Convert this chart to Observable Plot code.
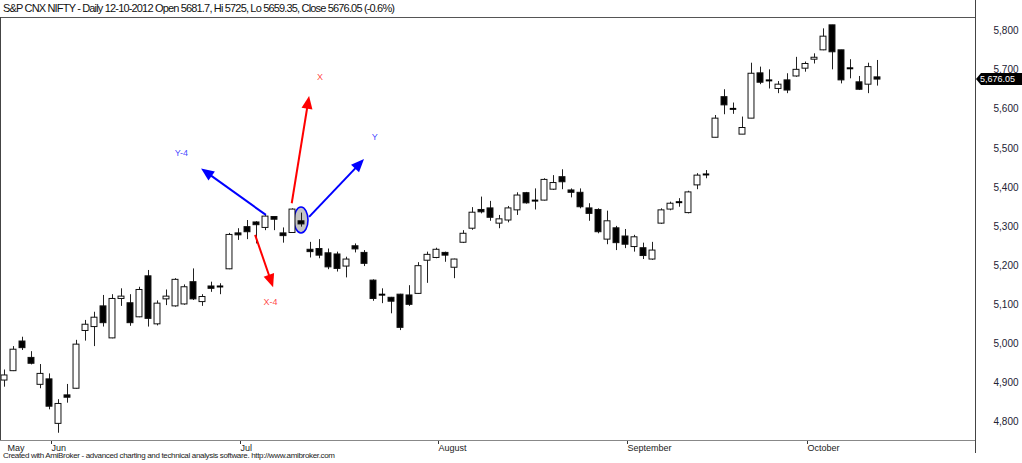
<!DOCTYPE html>
<html>
<head>
<meta charset="utf-8">
<script src="https://cdn.jsdelivr.net/npm/d3@7"></script>
<script src="https://cdn.jsdelivr.net/npm/@observablehq/plot@0.6"></script>
<style>
  html, body { margin: 0; padding: 0; background: #fff; }
  #chart svg { display: block; }
</style>
</head>
<body>
<div id="chart"></div>
<script>
// ---- data ----
const titleText = "S&P CNX NIFTY - Daily 12-10-2012 Open 5681.7, Hi 5725, Lo 5659.35, Close 5676.05 (-0.6%)";
const footerText = "Created with AmiBroker - advanced charting and technical analysis software. http://www.amibroker.com";

const opens = [4905,4929,5005,4963,4894,4908,4794,4867,4884,5032,5042,5095,5013,5114,5103,5067,5172,5049,5113,5095,
  5100,5157,5106,5146,5146,5190,5282,5298,5310,5296,5324,5282,5283,5313,5240,5242,5231,5228,5197,5249,
  5232,5161,5125,5117,5125,5123,5127,5212,5219,5232,5194,5258,5294,5342,5346,5307,5315,5341,5385,5366,
  5366,5394,5426,5392,5386,5346,5342,5266,5295,5274,5247,5244,5215,5307,5343,5362,5334,5405,5433,5527,
  5631,5601,5535,5576,5692,5674,5652,5674,5684,5704,5727,5751,5815,5751,5705,5669,5663,5681.7];
const highs = [4932,4992,5016,4979,4946,4922,4856,4895,5008,5059,5080,5123,5125,5140,5125,5144,5187,5109,5137,5166,
  5150,5191,5125,5157,5153,5282,5294,5315,5312,5330,5325,5296,5345,5334,5259,5266,5242,5234,5221,5255,
  5238,5163,5140,5118,5126,5148,5207,5234,5244,5234,5216,5289,5348,5375,5364,5328,5351,5386,5387,5396,
  5422,5430,5445,5396,5396,5358,5345,5339,5300,5292,5277,5257,5259,5345,5362,5371,5390,5435,5443,5584,
  5650,5616,5580,5718,5708,5701,5671,5691,5733,5721,5742,5806,5815,5751,5727,5684,5718,5725];
const lows = [4888,4928,4982,4945,4884,4830,4770,4847,4883,5006,4992,5042,5012,5095,5044,5066,5042,5045,5097,5093,
  5098,5110,5095,5131,5125,5189,5264,5266,5255,5289,5289,5257,5283,5298,5219,5217,5189,5183,5168,5232,
  5197,5108,5102,5076,5033,5095,5126,5154,5217,5208,5166,5256,5290,5332,5313,5294,5309,5328,5357,5342,
  5365,5392,5394,5373,5345,5313,5281,5253,5238,5243,5234,5215,5213,5305,5340,5349,5332,5394,5422,5527,
  5586,5587,5535,5576,5663,5652,5640,5640,5682,5695,5716,5750,5701,5665,5678,5648,5640,5659.35];
const closes = [4918,4984,4988,4948,4922,4838,4845,4861,4997,5048,5066,5052,5114,5120,5052,5137,5063,5102,5120,5163,
  5144,5113,5119,5140,5146,5278,5277,5285,5303,5325,5317,5275,5343,5305,5234,5225,5195,5191,5215,5241,
  5204,5114,5125,5107,5040,5099,5198,5227,5240,5225,5215,5281,5335,5336,5322,5318,5346,5379,5359,5366,
  5419,5411,5413,5386,5349,5332,5285,5313,5257,5253,5272,5224,5238,5341,5358,5362,5387,5430,5433,5576,
  5610,5601,5552,5691,5668,5674,5663,5648,5701,5716,5732,5786,5746,5674,5705,5650,5708,5676.05];

const monthTickIdx = [0, 5, 26, 48, 69, 89];
const monthLabels = ["May", "Jun", "Jul", "August", "September", "October"];
const yTicks = [4800, 4900, 5000, 5100, 5200, 5300, 5400, 5500, 5600, 5700, 5800];

// annotation arrows in (bar index, price) coordinates
const arrowNames  = ["Y-4", "Y", "X", "X-4"];
const arrowColors = ["#0000ff", "#0000ff", "#ff0000", "#ff0000"];
const arrowFromI  = [29.1, 33.9, 31.97, 27.9];
const arrowFromP  = [5328, 5323, 5358, 5277];
const arrowToI    = [21.9, 40.0, 33.9, 29.9];
const arrowToP    = [5447, 5471, 5633, 5143];
const labelI      = [19.7, 41.2, 35.1, 29.6];
const labelP      = [5487, 5528, 5681, 5105];
const highlightI = 33, highlightP = 5315;

// ---- build table ----
const bars = opens.map((o, i) => ({i, open: o, high: highs[i], low: lows[i], close: closes[i]}));
const bodies = bars.filter(d => d.open !== d.close);
const dojis = bars.filter(d => d.open === d.close);
const last = bars[bars.length - 1];
const monthMap = new Map(monthTickIdx.map((d, k) => [d, monthLabels[k]]));

const W = 1022, H = 463, mL = 1, mR = 47, mT = 17, mB = 23;
const FONT = "'Liberation Sans', Arial, sans-serif";

// ellipse highlight (under candles)
const highlightMark = (index, scales) => {
  const g = d3.create("svg:g");
  g.append("ellipse")
    .attr("cx", scales.x(highlightI)).attr("cy", scales.y(highlightP))
    .attr("rx", 7).attr("ry", 13)
    .attr("fill", "#c4c4c4").attr("stroke", "#0000ff").attr("stroke-width", 1.6);
  return g.node();
};

// arrows with filled heads + labels
const arrowMark = (index, scales) => {
  const g = d3.create("svg:g");
  arrowNames.forEach((name, k) => {
    const x0 = scales.x(arrowFromI[k]), y0 = scales.y(arrowFromP[k]);
    const x1 = scales.x(arrowToI[k]), y1 = scales.y(arrowToP[k]);
    const dx = x1 - x0, dy = y1 - y0, len = Math.hypot(dx, dy);
    const ux = dx / len, uy = dy / len, nx = -uy, ny = ux;
    const L = 13, w = 5.5;
    const bx = x1 - ux * L, by = y1 - uy * L;
    g.append("line").attr("x1", x0).attr("y1", y0).attr("x2", bx + ux * 2).attr("y2", by + uy * 2)
      .attr("stroke", arrowColors[k]).attr("stroke-width", 2);
    g.append("polygon")
      .attr("points", `${x1},${y1} ${bx + nx * w},${by + ny * w} ${bx - nx * w},${by - ny * w}`)
      .attr("fill", arrowColors[k]);
    g.append("text").attr("x", scales.x(labelI[k])).attr("y", scales.y(labelP[k]))
      .attr("text-anchor", "middle").attr("dy", "0.35em")
      .attr("font-size", 9).attr("font-family", FONT)
      .attr("fill", arrowColors[k]).attr("fill-opacity", 0.75)
      .text(name);
  });
  return g.node();
};

// frame, title, footer, price tag
const decorMark = (index, scales) => {
  const g = d3.create("svg:g");
  const right = W - mR, bottom = H - mB;
  g.append("line").attr("x1", 0).attr("x2", right).attr("y1", mT + 0.5).attr("y2", mT + 0.5).attr("stroke", "#555");
  g.append("line").attr("x1", 0.5).attr("x2", 0.5).attr("y1", mT).attr("y2", bottom).attr("stroke", "#444");
  g.append("line").attr("x1", right + 0.5).attr("x2", right + 0.5).attr("y1", 0).attr("y2", 453).attr("stroke", "#444");
  g.append("line").attr("x1", 0).attr("x2", right).attr("y1", bottom + 0.5).attr("y2", bottom + 0.5).attr("stroke", "#888");
  g.append("text").attr("x", 3).attr("y", 11.5).attr("font-size", 11).attr("font-family", FONT)
    .attr("text-anchor", "start").attr("fill", "#111").attr("textLength", 392).text(titleText);
  g.append("text").attr("x", 3).attr("y", 458).attr("font-size", 8).attr("font-family", FONT)
    .attr("text-anchor", "start").attr("fill", "#222").attr("textLength", 332).text(footerText);
  const yc = scales.y(last.close);
  g.append("polygon")
    .attr("points", `${right + 1},${yc} ${right + 6},${yc - 6} ${W},${yc - 6} ${W},${yc + 6} ${right + 6},${yc + 6}`)
    .attr("fill", "#000");
  g.append("text").attr("x", right + 5).attr("y", yc).attr("dy", "0.35em")
    .attr("text-anchor", "start")
    .attr("font-size", 9).attr("font-family", FONT).attr("fill", "#fff")
    .text(d3.format(",.2f")(last.close));
  return g.node();
};

const chart = Plot.plot({
  width: W, height: H,
  marginLeft: mL, marginRight: mR, marginTop: mT, marginBottom: mB,
  style: {fontFamily: FONT, background: "#fff"},
  x: {type: "linear", domain: [-1 / 3, 971 / 9]},
  y: {domain: [4751.4, 5835.1]},
  marks: [
    highlightMark,
    Plot.ruleX(bars, {x: "i", y1: "low", y2: "high", stroke: "#222", strokeWidth: 1}),
    Plot.rect(bodies, {
      x1: d => d.i - 0.33, x2: d => d.i + 0.33, y1: "open", y2: "close",
      fill: d => d.close > d.open ? "#fff" : "#000", stroke: "#111", strokeWidth: 1
    }),
    Plot.ruleY(dojis, {y: "close", x1: d => d.i - 0.36, x2: d => d.i + 0.36, stroke: "#000", strokeWidth: 2}),
    arrowMark,
    Plot.axisY(yTicks, {anchor: "right", tickSize: 0, tickPadding: 18, tickFormat: d3.format(","),
      fontSize: 10, fill: "#223", label: null}),
    Plot.axisX(monthTickIdx.slice(0, 1), {anchor: "bottom", tickSize: 0, tickPadding: 4,
      tickFormat: d => monthMap.get(d), textAnchor: "start", dx: 3, fontSize: 9, fill: "#222", label: null}),
    Plot.axisX(monthTickIdx.slice(1), {anchor: "bottom", tickSize: 4, tickPadding: 0, stroke: "#333",
      tickFormat: d => monthMap.get(d), textAnchor: "start", dx: 2, fontSize: 9, fill: "#222", label: null}),
    decorMark
  ]
});
document.getElementById("chart").appendChild(chart);
</script>
</body>
</html>
